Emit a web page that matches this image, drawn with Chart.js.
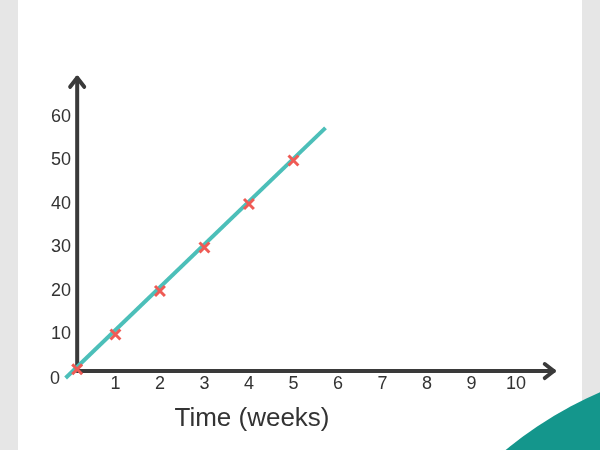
<!DOCTYPE html>
<html><head><meta charset="utf-8">
<script src="https://cdn.jsdelivr.net/npm/chart.js@4"></script>
<style>
body{margin:0;background:#e6e6e6;}
#wrap{position:relative;width:600px;height:450px;overflow:hidden;}
#panel{position:absolute;left:18px;top:0;width:564px;height:450px;background:#fff;}
#corner{position:absolute;left:359px;top:359px;width:802px;height:802px;border-radius:50%;background:#14968c;}
canvas{position:absolute;left:0;top:0;}
</style></head><body>
<div id="wrap"><div id="panel"></div><div id="corner"></div>
<canvas id="c" width="600" height="450"></canvas></div>
<script>
// data
const xTicks = [1,2,3,4,5,6,7,8,9,10];
const yTicks = [0,10,20,30,40,50,60];
const lineX = [-0.12, 5.72];
const lineY = [0, 57.5];
const markX = [0.14, 1, 2, 3, 4, 5];
const markY = [2, 10, 20, 30, 40, 50];
const axisAt = {x: 0.14, y: 1.6};
const xLabel = 'Time (weeks)';

const axesPlugin = {
  id: 'axes',
  beforeDatasetsDraw(chart) {
    const {ctx, scales: {x, y}} = chart;
    const ox = x.getPixelForValue(axisAt.x), oy = y.getPixelForValue(axisAt.y);
    const top = y.getPixelForValue(69), right = x.getPixelForValue(10.85);
    ctx.save();
    ctx.strokeStyle = '#3a3a3a'; ctx.lineWidth = 4; ctx.lineCap = 'round';
    ctx.beginPath(); ctx.moveTo(ox, oy); ctx.lineTo(ox, top); ctx.moveTo(ox, oy); ctx.lineTo(right, oy); ctx.stroke();
    ctx.lineJoin = 'round';
    ctx.beginPath(); ctx.moveTo(ox - 7, top + 9); ctx.lineTo(ox, top); ctx.lineTo(ox + 7, top + 9); ctx.stroke();
    ctx.beginPath(); ctx.moveTo(right - 9, oy - 7); ctx.lineTo(right, oy); ctx.lineTo(right - 9, oy + 7); ctx.stroke();
    ctx.fillStyle = '#333';
    ctx.font = '18px "Liberation Sans", Arial, sans-serif';
    ctx.textAlign = 'center'; ctx.textBaseline = 'middle';
    xTicks.forEach(t => ctx.fillText(String(t), x.getPixelForValue(t), 384));
    ctx.textAlign = 'right';
    yTicks.forEach(t => ctx.fillText(String(t), t === 0 ? 60 : 71, y.getPixelForValue(t) + (t === 0 ? 1 : 0)));
    ctx.textAlign = 'center';
    ctx.font = '26px "Liberation Sans", Arial, sans-serif';
    ctx.fillText(xLabel, 252, 419);
    ctx.restore();
  }
};

new Chart(document.getElementById('c'), {
  type: 'scatter',
  data: {
    datasets: [
      {data: lineX.map((v, i) => ({x: v, y: lineY[i]})), showLine: true, borderColor: '#4cbfb9', borderWidth: 4, pointRadius: 0, order: 2},
      {data: markX.map((v, i) => ({x: v, y: markY[i]})), pointStyle: 'cross', rotation: 45, pointRadius: 7, borderColor: '#ef5b55', borderWidth: 3, order: 1}
    ]
  },
  options: {
    responsive: false, animation: false,
    layout: {padding: {left: 57.6, right: 44, top: 73.5, bottom: 63.3}},
    plugins: {legend: {display: false}, tooltip: {enabled: false}},
    scales: {
      x: {type: 'linear', min: -0.3, max: 10.9, display: false},
      y: {min: -2, max: 70, display: false}
    }
  },
  plugins: [axesPlugin]
});
</script></body></html>
